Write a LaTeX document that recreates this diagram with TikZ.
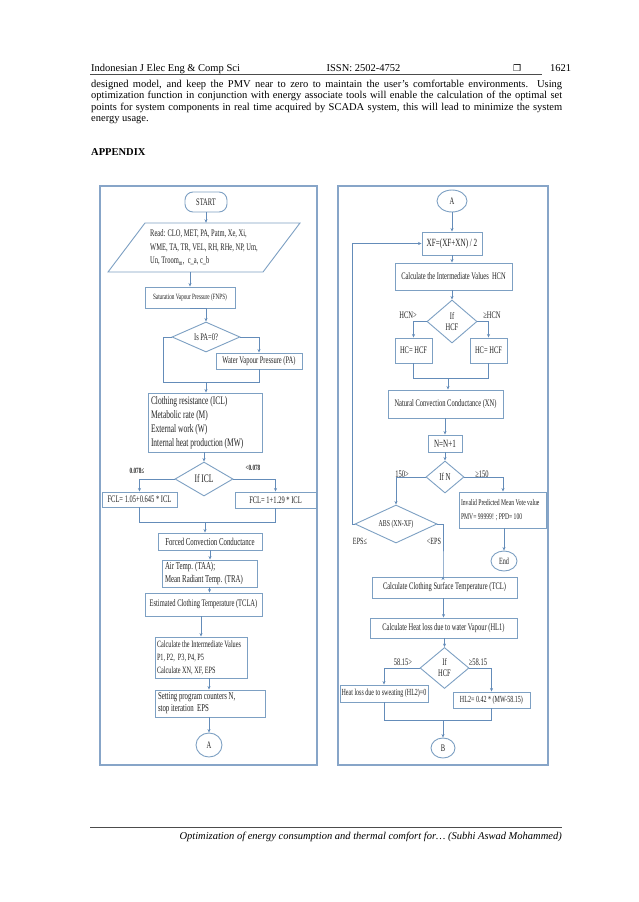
\documentclass[tikz,border=0pt]{standalone}
\usepackage{fontspec}
\setmainfont{Liberation Serif}
\newfontfamily\cond[FakeStretch=0.65]{Liberation Serif}
\newfontfamily\djv{DejaVu Sans}
\usetikzlibrary{shapes.geometric,arrows.meta}
\definecolor{framec}{RGB}{135,165,200}
\definecolor{boxc}{RGB}{125,160,195}
\definecolor{arrc}{RGB}{100,140,185}
\definecolor{txt}{RGB}{35,35,35}
\begin{document}
\begin{tikzpicture}[x=1pt,y=-1pt,
  box/.style={draw=boxc, line width=0.9pt, inner sep=1pt, text=txt, font=\cond\fontsize{10}{12}\selectfont, align=center},
  mbox/.style={box, align=flush left, inner xsep=3pt},
  dia/.style={box, diamond, shape aspect=2, inner sep=0pt},
  term/.style={box, ellipse, inner sep=0pt},
  arr/.style={draw=arrc, line width=0.6pt, -{Stealth[length=3.5pt,width=3pt]}},
  ln/.style={draw=arrc, line width=0.6pt},
  lbl/.style={text=txt, font=\cond\fontsize{10}{12}\selectfont, inner sep=0pt},
  frame/.style={draw=framec, line width=1.2pt},
  page/.style={text=black, inner sep=0pt, font=\fontsize{10.5}{12.6}\selectfont}
]
\useasboundingbox[fill=white] (0,0) rectangle (638,902);

% ---------- page header ----------
\node[page, anchor=base west] (hl) at (91,71.5) {Indonesian J Elec Eng \& Comp Sci};
\node[page, anchor=base] (hm) at (363.5,71.5) {ISSN: 2502-4752};
\node[page, anchor=base west] (hbox) at (513,71.5) {{\djv\fontsize{9}{10}\selectfont ❒}};
\node[page, anchor=base west] (hnum) at (550,71.5) {1621};
\draw[black!70, line width=0.8pt] (90,74.5) -- (542,74.5);

% ---------- body text ----------
\node[page, anchor=base west] (t1) at (91,87) {\makebox[471pt][s]{designed model, and keep the PMV near to zero to maintain the user’s comfortable environments. Using}};
\node[page, anchor=base west] (t2) at (91,98.5) {\makebox[471pt][s]{optimization function in conjunction with energy associate tools will enable the calculation of the optimal set}};
\node[page, anchor=base west] (t3) at (91,110) {\makebox[471pt][s]{points for system components in real time acquired by SCADA system, this will lead to minimize the system}};
\node[page, anchor=base west] (t4) at (91,121.5) {energy usage.};
\node[page, anchor=base west, font=\bfseries\fontsize{10.5}{12.6}\selectfont] (app) at (91,155.5) {APPENDIX};

% ---------- frames ----------
\draw[frame] (100,186) rectangle (317,765);
\draw[frame] (338,186) rectangle (548,765);

% ---------- left flowchart ----------
\node[box, rounded corners=8pt, minimum width=42, minimum height=20] (start) at (206,202) {START};
\draw[draw=boxc, line width=0.9pt] (108,272) -- (145,223) -- (300,223) -- (263,272) -- cycle;
\node[lbl, anchor=west, align=left, minimum height=49, font=\cond\fontsize{10}{13.5}\selectfont] (read) at (150,247.5)
  {Read: CLO, MET, PA, Patm, Xe, Xi,\\WME, TA, TR, VEL, RH, RHe, NP, Um,\\Un, Troom\textsubscript{m}, \ c\_a, c\_b};
\node[box, minimum width=90, minimum height=21, font=\cond\fontsize{8}{9}\selectfont] (fnps) at (190,297.5) {Saturation Vapour Pressure (FNPS)};
\node[dia, minimum width=68, minimum height=30] (d1) at (206,337) {Is PA=0?};
\node[box, minimum width=86, minimum height=16] (wvp) at (259,361) {Water Vapour Pressure (PA)};
\coordinate (m1) at (206,382);
\node[mbox, text width=108, minimum height=59, font=\cond\fontsize{11.5}{14}\selectfont] (cloth) at (205,422.5)
  {Clothing resistance (ICL)\\Metabolic rate (M)\\External work (W)\\Internal heat production (MW)};
\node[dia, minimum width=58, minimum height=34, font=\cond\fontsize{11.5}{13}\selectfont] (d2) at (204,479) {If ICL};
\node[lbl, font=\cond\bfseries\fontsize{8}{10}\selectfont] (l1) at (137,471) {0.078≤};
\node[lbl, font=\cond\bfseries\fontsize{8}{10}\selectfont] (l2) at (253,468) {<0.078};
\node[box, minimum width=75, minimum height=15] (fcl1) at (139.5,499.5) {FCL= 1.05+0.645 * ICL};
\node[box, minimum width=81, minimum height=16] (fcl2) at (275.5,500) {FCL= 1+1.29 * ICL};
\coordinate (m2) at (205,522);
\node[box, minimum width=104, minimum height=17, font=\cond\fontsize{10.5}{12}\selectfont] (forced) at (210,541.5) {Forced Convection Conductance};
\node[mbox, text width=89, minimum height=27, font=\cond\fontsize{10.5}{13.5}\selectfont] (airt) at (209.5,573.5) {Air Temp. (TAA);\\Mean Radiant Temp. (TRA)};
\node[box, minimum width=117, minimum height=23] (tcla) at (203.5,604.5) {Estimated Clothing Temperature (TCLA)};
\node[mbox, text width=88, inner xsep=2pt, minimum height=41, font=\cond\fontsize{9.6}{13}\selectfont] (calc1) at (201,657.5)
  {Calculate the Intermediate Values\\P1, P2, \ P3, P4, P5\\Calculate XN, XF, EPS};
\node[mbox, text width=104, minimum height=27, font=\cond\fontsize{10.5}{12}\selectfont] (setn) at (210,703.5)
  {Setting program counters N,\\stop iteration \ EPS};
\node[term, minimum width=26, minimum height=24] (A1) at (209,745) {A};

\draw[arr] (start.south) -- (start.south |- read.north);
\draw[arr] (fnps.north |- read.south) -- (fnps.north);
\draw[arr] (fnps.south) -- (fnps.south -| d1.north) -- (d1.north);
\draw[ln] (d1.west) -| (163,382) -- (m1);
\draw[arr] (d1.east) -| (wvp.north);
\draw[ln] (wvp.south) |- (m1);
\draw[arr] (m1) -- (m1 |- cloth.north);
\draw[arr] (d2.north |- cloth.south) -- (d2.north);
\draw[arr] (d2.west) -| (fcl1.north);
\draw[arr] (d2.east) -| (fcl2.north);
\draw[ln] (fcl1.south) |- (m2);
\draw[ln] (fcl2.south) |- (m2);
\draw[arr] (m2) -- (m2 |- forced.north);
\draw[arr] (forced.south) -- (forced.south |- airt.north);
\draw[arr] (airt.south) -- (airt.south |- tcla.north);
\draw[arr] (calc1.north |- tcla.south) -- (calc1.north);
\draw[arr] (A1.north |- calc1.south) -- (A1.north |- setn.north);
\draw[arr] (A1.north |- setn.south) -- (A1.north);

% ---------- right flowchart ----------
\node[term, minimum width=30, minimum height=22] (A2) at (452,201) {A};
\node[box, minimum width=60, minimum height=23, font=\cond\fontsize{11}{12}\selectfont] (xf) at (452,243.5) {XF=(XF+XN) / 2};
\node[box, minimum width=117, minimum height=27] (hcn) at (453.5,276.5) {Calculate the Intermediate Values \ HCN};
\node[dia, minimum width=50, minimum height=43, font=\cond\fontsize{10}{11}\selectfont] (d3) at (452,321.5) {If\\HCF};
\node[lbl] (l3) at (408,315) {HCN>};
\node[lbl] (l4) at (492,315) {≥HCN};
\node[box, minimum width=37, minimum height=25] (hc1) at (413.5,350.5) {HC= HCF};
\node[box, minimum width=37, minimum height=25] (hc2) at (488.5,350.5) {HC= HCF};
\coordinate (m3) at (448,378);
\node[box, minimum width=115, minimum height=28] (xn) at (445.5,404) {Natural Convection Conductance (XN)};
\node[box, minimum width=34, minimum height=17, font=\cond\fontsize{11}{12}\selectfont] (nn) at (445,443.5) {N=N+1};
\node[dia, minimum width=38, minimum height=32, font=\cond\fontsize{10.5}{12}\selectfont] (d4) at (445,477) {If N};
\node[lbl] (l5) at (402,474) {150>};
\node[lbl] (l6) at (482,474) {≥150};
\node[dia, minimum width=82, minimum height=38, font=\cond\fontsize{9}{10}\selectfont] (abs) at (396,524) {ABS (XN-XF)};
\node[mbox, text width=84, inner xsep=1.5pt, minimum height=36, font=\cond\fontsize{8.7}{14}\selectfont] (inv) at (503,510)
  {Invalid Predicted Mean Vote value\\PMV= 99999! ; PPD= 100};
\node[term, minimum width=26, minimum height=20, font=\cond\fontsize{9.5}{11}\selectfont] (endn) at (504,561) {End};
\node[lbl, font=\cond\fontsize{9.5}{11}\selectfont] (l7) at (360,541) {EPS≤};
\node[lbl, font=\cond\fontsize{9.5}{11}\selectfont] (l8) at (434,541) {<EPS};
\node[box, minimum width=145, minimum height=21] (tcl) at (444.5,587.5) {Calculate Clothing Surface Temperature (TCL)};
\node[box, minimum width=147, minimum height=20] (hl1) at (443.5,628) {Calculate Heat loss due to water Vapour (HL1)};
\node[dia, minimum width=45, minimum height=41, font=\cond\fontsize{10}{11}\selectfont] (d5) at (444.5,668) {If\\HCF};
\node[lbl] (l9) at (403,662) {58.15>};
\node[lbl] (l10) at (478,662) {≥58.15};
\node[box, minimum width=88, minimum height=17, font=\cond\fontsize{9.3}{11}\selectfont] (sw) at (384,693.5) {Heat loss due to sweating (HL2)=0};
\node[box, minimum width=77, minimum height=16, font=\cond\fontsize{9.3}{11}\selectfont] (hl2) at (491.5,700) {HL2= 0.42 * (MW-58.15)};
\coordinate (m4) at (443,720);
\node[term, minimum width=24, minimum height=20] (B) at (443,748) {B};

\draw[arr] (A2.south) -- (xf.north);
\draw[arr] (xf.south) -- (xf.south |- hcn.north);
\draw[arr] (d3.north |- hcn.south) -- (d3.north);
\draw[arr] (d3.west) -| (hc1.north);
\draw[arr] (d3.east) -| (hc2.north);
\draw[ln] (hc1.south) |- (m3);
\draw[ln] (hc2.south) |- (m3);
\draw[arr] (m3) -- (m3 |- xn.north);
\draw[arr] (nn.north |- xn.south) -- (nn.north);
\draw[arr] (nn.south) -- (d4.north);
\draw[arr] (d4.west) -| (abs.north);
\draw[arr] (d4.east) -| (inv.north);
\draw[arr] (endn.north |- inv.south) -- (endn.north);
\draw[arr] (abs.west) -- (352,524) -- (352,243.5) -- (xf.west);
\draw[arr] (abs.east) -| (443,577) -- (443,577 |- tcl.north);
\draw[arr] (hl1.north |- tcl.south) -- (hl1.north);
\draw[arr] (d5.north |- hl1.south) -- (d5.north);
\draw[arr] (d5.west) -| (sw.north);
\draw[arr] (d5.east) -| (hl2.north);
\draw[ln] (sw.south) |- (m4);
\draw[ln] (hl2.south) |- (m4);
\draw[arr] (m4) -- (B.north);

% ---------- footer ----------
\draw[black!70, line width=0.8pt] (90,827) -- (562,827);
\node[page, anchor=base east, font=\itshape\fontsize{10.5}{12.6}\selectfont] (foot) at (562,839.5) {Optimization of energy consumption and thermal comfort for… (Subhi Aswad Mohammed)};
\end{tikzpicture}
\end{document}
